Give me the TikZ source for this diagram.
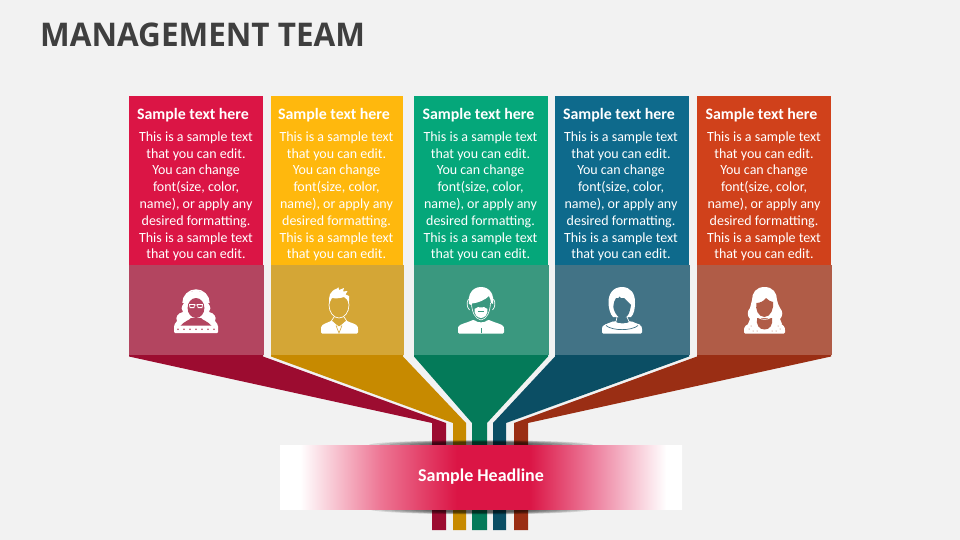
\documentclass[tikz,border=0pt]{standalone}
\usepackage{fontspec}
\setmainfont{Carlito}
\newfontfamily\titlefont[FakeStretch=0.965]{Open Sans}
\pgfdeclarehorizontalshading{headfade}{100bp}{rgb(0bp)=(1,1,1);rgb(27.5bp)=(1,1,1);rgb(37.5bp)=(0.93,0.46,0.58);rgb(47bp)=(0.859,0.082,0.271);rgb(56bp)=(0.859,0.082,0.271);rgb(64bp)=(0.93,0.50,0.62);rgb(73bp)=(1,1,1);rgb(100bp)=(1,1,1)}
\definecolor{pagebg}{HTML}{F2F2F2}
\definecolor{titlegray}{HTML}{3F3F3F}
\definecolor{redA}{HTML}{DB1545}\definecolor{redB}{HTML}{B34560}\definecolor{redC}{HTML}{9C0C30}
\definecolor{yelA}{HTML}{FFB80D}\definecolor{yelB}{HTML}{D4A636}\definecolor{yelC}{HTML}{C78A00}
\definecolor{grnA}{HTML}{05A77A}\definecolor{grnB}{HTML}{3A987F}\definecolor{grnC}{HTML}{047A59}
\definecolor{bluA}{HTML}{0E6A8C}\definecolor{bluB}{HTML}{427386}\definecolor{bluC}{HTML}{0B4E64}
\definecolor{broA}{HTML}{D0411B}\definecolor{broB}{HTML}{B05C47}\definecolor{broC}{HTML}{9A2E14}
\tikzset{
  headtext/.style={text=white,inner sep=0pt,font=\fontsize{15.9}{17}\selectfont\bfseries,anchor=center},
  bodytext/.style={text=white,inner sep=0pt,align=center,font=\fontsize{14}{16.8}\selectfont,anchor=center},
  iconw/.style={fill=white,draw=none},
}
% #1 name, #2 left, #3 right, #4 strip left, #5 strip right, #6 colour prefix, #7 head centre, #8 body centre
\newcommand{\teamcolumn}[8]{
  \fill[#6C] (#2,355) -- (#3,355) -- (#3,356.5) -- (#5,423) -- (#5,530) -- (#4,530) -- (#4,423) -- (#2,356.5) -- cycle;
  \node[fill=#6A,minimum width=#3pt-#2pt,minimum height=170pt,inner sep=0pt,anchor=north west] (#1box) at (#2,96) {};
  \node[fill=#6B,minimum width=#3pt-#2pt+1pt,minimum height=90.5pt,inner sep=0pt,anchor=north west] (#1photo) at (#2-0.5,264.5) {};
  \node[headtext] (#1head) at (#7,115) {Sample text here};
  \node[bodytext,anchor=north] (#1body) at (#8,131.3) {This is a sample text\\that you can edit.\\You can change\\font(size, color,\\name), or apply any\\desired formatting.\\This is a sample text\\that you can edit.};
}
\begin{document}
\begin{tikzpicture}[x=1pt,y=-1pt]
\useasboundingbox (0,0) rectangle (960,540);
\fill[pagebg] (0,0) rectangle (960,540);
\node[text=titlegray,inner sep=0pt,anchor=west,font=\fontsize{32.6}{36}\selectfont\titlefont\bfseries] (title) at (40,34.5) {MANAGEMENT TEAM};

\teamcolumn{a}{129}{263}{432}{446}{red}{193}{196}
\teamcolumn{b}{271}{403}{453}{466}{yel}{334}{336.5}
\teamcolumn{c}{414}{548}{472}{487}{grn}{478.5}{480.5}
\teamcolumn{d}{555}{689}{493}{506}{blu}{619}{621}
\teamcolumn{e}{697}{831}{514}{528}{bro}{761.5}{764}

% Headline shadow
\foreach \r/\h in {112/4.8,102/4.5,92/4.2,82/3.9,72/3.6,62/3.3,52/3}{
  \fill[black,opacity=0.12] (481,445) ellipse ({\r} and {\h});
  \fill[black,opacity=0.12] (481,509) ellipse ({\r} and {\h+0.6});
}
\node[shading=headfade,minimum width=402pt,minimum height=64pt,inner sep=0pt,anchor=north west] (headline) at (280,445) {};
\node[text=white,inner sep=0pt,font=\fontsize{18}{20}\selectfont\bfseries] (headlinetext) at (481,477) {Sample Headline};

% ---------- icon 1
\def\ph{redB}
\fill[iconw] (196,291) .. controls (186,291) and (183,297) .. (184,303) .. controls (181,307) and (181,310) .. (183,312) .. controls (178,313) and (175,317) .. (177,321) .. controls (175,323) and (174,325) .. (174,327) -- (218,327) .. controls (218,325) and (217,323) .. (215,321) .. controls (217,317) and (214,313) .. (209,312) .. controls (211,310) and (211,307) .. (208,303) .. controls (209,297) and (206,291) .. (196,291) -- cycle;
\draw[white,line width=1.4] (183,303) arc[start angle=180,end angle=360,radius=13];
\fill[\ph] (180,326.5) .. controls (184,321) and (190,320) .. (191,318) -- (201,318) .. controls (202,320) and (208,321) .. (212,326.5) -- cycle;
\fill[\ph] (196,308) ellipse (8.4 and 10);
\draw[white,line width=0.8] (189.5,304.5) -- (194.5,304.5) -- (194,307.6) -- (190,307.6) -- cycle (197.5,304.5) -- (202.5,304.5) -- (202,307.6) -- (198,307.6) -- cycle (194.5,305) -- (197.5,305);
\fill[iconw,rounded corners=1] (174,325.5) rectangle (218,333);
\foreach \dx in {178,184,190,196,202,208,214}{\fill[\ph] (\dx,329.3) circle (0.9);}
% ---------- icon 2
\def\ph{yelB}
\fill[iconw,rounded corners=1.2] (321,333.5) -- (321,328) .. controls (322,324) and (327,323) .. (332,320.5) -- (339,328) -- (346,320.5) .. controls (351,323) and (357,324) .. (358,328) -- (358,333.5) -- cycle;
\draw[white,line width=0.7] (339,305) ellipse (10 and 13);
\fill[iconw] (329.5,304) .. controls (328,296) and (330,291) .. (337,288.5) -- (338.5,287.3) -- (339,290) -- (344,288) -- (343,291.5) -- (347.5,291) -- (345.5,294.5) -- (349,296) .. controls (349.5,299) and (349,302) .. (348.5,304) .. controls (348,300) and (346,298) .. (344,297) .. controls (340,298.5) and (335,298.5) .. (332,298) .. controls (330.5,300) and (330,302) .. (329.5,304) -- cycle;
\draw[white,line width=0.7] (334,317) -- (331,321.5) (344,317) -- (347,321.5) (332,322) -- (339,327) -- (346,322);
\draw[\ph,line width=0.6] (336,325.5) -- (339,333) -- (342,325.5);
% ---------- icon 3
\def\ph{grnB}
\fill[iconw,rounded corners=1.2] (458,333.5) -- (458,328) .. controls (459,324) and (467,323) .. (474,319.5) .. controls (477,323) and (485,323) .. (488,319.5) .. controls (495,323) and (503,324) .. (504,328) -- (504,333.5) -- cycle;
\fill[iconw] (469,304) .. controls (467.5,295) and (472,287) .. (481,287) .. controls (490,287) and (494.5,295) .. (493,304) -- (491,303) .. controls (491,301) and (490,298) .. (489,296) .. controls (485,300) and (478,303) .. (472,303.5) -- (471,305) -- cycle;
\draw[white,line width=0.6] (471.5,304) .. controls (472,312) and (475,319) .. (481,320) .. controls (487,319) and (490,312) .. (490.5,303);
\fill[iconw] (474.5,309) .. controls (477,307) and (479,306.5) .. (481,307.5) .. controls (483,306.5) and (485,307) .. (487.5,309) .. controls (488,314) and (485,318) .. (481,318) .. controls (477,318) and (474,314) .. (474.5,309) -- cycle;
\fill[\ph] (478,310.5) rectangle (484,311.6);
\draw[white,line width=0.7] (468.5,299) .. controls (466.5,302) and (466.5,307) .. (469.5,310) (493.5,299) .. controls (495.5,302) and (495.5,307) .. (492.5,310);
\draw[\ph,line width=0.5] (481,328) -- (481,333);
% ---------- icon 4
\def\ph{bluB}
\fill[iconw,rounded corners=1.2] (602,333.5) -- (602,328) .. controls (603,325) and (608,323.5) .. (614,321) .. controls (618,324) and (627,324) .. (631,321) .. controls (636,323.5) and (641,325) .. (642,328) -- (642,333.5) -- cycle;
\fill[iconw] (622,287) .. controls (631,287) and (635,294) .. (635,302) .. controls (635,309) and (634,314) .. (631,317) -- (613,317) .. controls (610,314) and (608.5,308) .. (608.5,302) .. controls (608.5,294) and (613,287) .. (622,287) -- cycle;
\fill[\ph] (616,298) .. controls (613,303) and (613,307) .. (614,310) .. controls (616,315) and (619,318.5) .. (622,318.5) .. controls (626,318.5) and (629,315) .. (630,310) .. controls (630.5,308) and (631,307) .. (631,305) -- (624,298) -- cycle;
\draw[\ph,line width=1.1] (619,297) -- (630,307.5);
\draw[white,line width=0.7] (617,317) -- (616,321.5) -- (605,325) (627,317) -- (629,321.5) -- (640,325);
\draw[\ph,line width=0.7] (606,325.5) .. controls (612,331) and (632,331) .. (638,325.5);
% ---------- icon 5
\def\ph{broB}
\fill[iconw] (764.5,287) .. controls (773,287) and (777,293) .. (777,300) .. controls (777,303) and (779,305) .. (780,308) .. controls (783,311) and (783,316) .. (780,319) -- (782,324) -- (748,324) -- (750,319) .. controls (747,316) and (747,311) .. (750,308) .. controls (750,305) and (752,303) .. (752,300) .. controls (752,293) and (756,287) .. (764.5,287) -- cycle;
\fill[iconw,rounded corners=1.2] (744,333.5) -- (744,329) .. controls (745,325) and (750,323) .. (756,321) -- (774,321) .. controls (780,323) and (784,325) .. (785,329) -- (785,333.5) -- cycle;
\fill[\ph] (757,318) .. controls (756,325) and (759,329.5) .. (764.5,329.5) .. controls (770,329.5) and (773,325) .. (772,318) -- cycle;
\fill[\ph] (756.5,303) .. controls (760,303) and (764,301) .. (766,298) .. controls (768,300) and (771,302) .. (773,302) .. controls (774,308) and (771,317) .. (764.5,317) .. controls (758,317) and (755,309) .. (756.5,303) -- cycle;
\draw[white,line width=0.7] (758,317.5) .. controls (762,320) and (767,320) .. (771,317.5);
\foreach \dx/\dy in {749/329,753/331,757/331,772/331,776/331,780/329,751/326,778/326}{\fill[\ph] (\dx,\dy) circle (0.5);}
\end{tikzpicture}
\end{document}
